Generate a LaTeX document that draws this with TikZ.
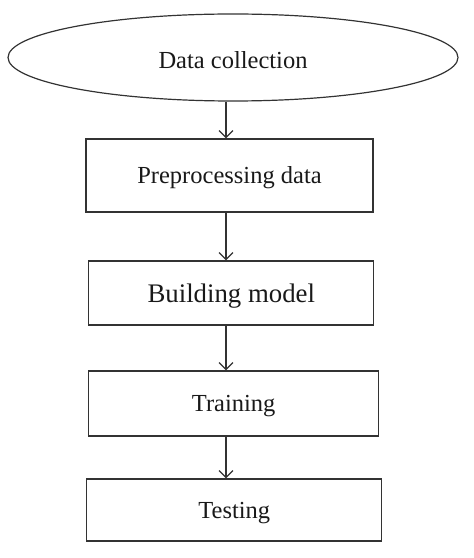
\documentclass[tikz,border=0pt]{standalone}
\usepackage{fontspec}
\setmainfont{Liberation Serif}
\usetikzlibrary{arrows.meta,shapes.geometric}
\begin{document}
\begin{tikzpicture}[x=1pt,y=1pt,
  shape line/.style={draw=black!80, line width=1.2pt},
  stepbox/.style={shape line, rectangle, inner sep=0pt, text depth=0pt, text=black!90, font=\fontsize{24.5}{29}\selectfont},
  startnode/.style={shape line, ellipse, inner sep=0pt, text height=23pt, text depth=0pt, text=black!90, font=\fontsize{24.5}{29}\selectfont},
  arr/.style={draw=black!80, line width=1.2pt, -{Straight Barb[length=7pt,width=14pt]}}]
\useasboundingbox (0,0) rectangle (474,558);
\node[startnode, minimum width=450pt, minimum height=87pt] (ell) at (233,500.5) {Data collection};
\node[stepbox, minimum width=287pt, minimum height=73pt] (b1) at (229.5,382.5) {Preprocessing data};
\node[stepbox, minimum width=285pt, minimum height=64pt, font=\fontsize{26.8}{31}\selectfont] (b2) at (231.3,265) {Building model};
\node[stepbox, minimum width=290pt, minimum height=65pt] (b3) at (233.7,154.5) {Training};
\node[stepbox, minimum width=295pt, minimum height=62pt] (b4) at (234.3,48) {Testing};
\coordinate (ax) at (226,0);
\draw[arr] (ell.south -| ax) -- (b1.north -| ax);
\draw[arr] (b1.south -| ax) -- (b2.north -| ax);
\draw[arr] (b2.south -| ax) -- (b3.north -| ax);
\draw[arr] (b3.south -| ax) -- (b4.north -| ax);
\end{tikzpicture}
\end{document}
